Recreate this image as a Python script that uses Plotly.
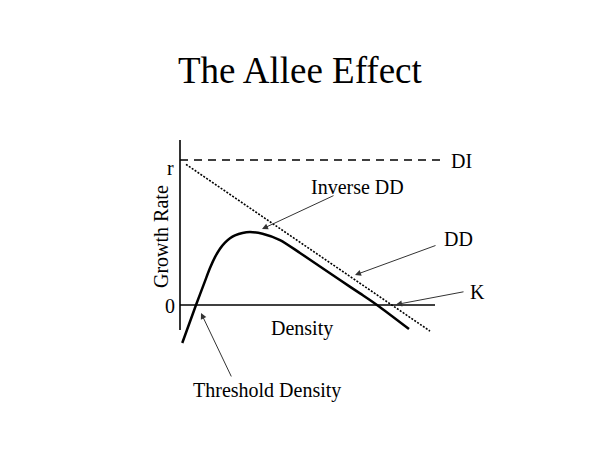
import plotly.graph_objects as go

# Allee effect curve (density vs. per-capita growth rate)
density = [0.9, 6.4, 10, 12, 14, 16, 18, 20, 22, 25, 28, 33, 40, 48, 56, 64, 72, 78.8, 91.6]
growth = [-0.262, 0.0, 0.165, 0.255, 0.33, 0.388, 0.43, 0.46, 0.48, 0.497, 0.503, 0.492,
          0.448, 0.359, 0.266, 0.172, 0.08, 0.0, -0.166]

# density dependent (logistic) line, dotted
dd_density = [2.4, 100]
dd_growth = [0.97, -0.18]

# density independent rate r, dashed
r_rate = 1.0
di_density = [0, 105]

# axes extent
x_axis_end = 102
y_axis_top = 1.138
y_axis_bottom = -0.172

serif = "Liberation Serif, Times New Roman, serif"

fig = go.Figure()

# DI dashed line
fig.add_trace(go.Scatter(x=di_density, y=[r_rate, r_rate], mode="lines",
                         line=dict(color="black", width=1.5, dash="8px,6px"),
                         hoverinfo="skip"))
# DD dotted line
fig.add_trace(go.Scatter(x=dd_density, y=dd_growth, mode="lines",
                         line=dict(color="black", width=1.6, dash="2px,1.5px"),
                         hoverinfo="skip"))
# Allee curve
fig.add_trace(go.Scatter(x=density, y=growth, mode="lines",
                         line=dict(color="black", width=2.5, shape="spline", smoothing=0.8),
                         hoverinfo="skip"))

# axes lines
fig.add_shape(type="line", x0=0, x1=0, y0=y_axis_bottom, y1=y_axis_top,
              line=dict(color="black", width=1.6))
fig.add_shape(type="line", x0=0, x1=x_axis_end, y0=0, y1=0,
              line=dict(color="black", width=1.6))

def label(text, x, y, size=20, angle=0):
    fig.add_annotation(x=x, y=y, text=text, showarrow=False, textangle=angle,
                       font=dict(family=serif, size=size, color="black"))

def pointer(x, y, ax, ay):
    fig.add_annotation(x=x, y=y, ax=ax, ay=ay, axref="x", ayref="y", text="",
                       showarrow=True, arrowhead=2, arrowsize=1.2, arrowwidth=1,
                       arrowcolor="#333333")

label("The Allee Effect", 48, 1.62, size=37)
label("r", -4, 0.945)
label("0", -4, -0.007)
label("Growth Rate", -7.6, 0.469, angle=-90)
label("DI", 112.4, 0.993)
label("DD", 111.2, 0.455)
label("K", 118.8, 0.09)
label("Inverse DD", 70.8, 0.814)
label("Density", 48.8, -0.159)
label("Threshold Density", 34.8, -0.593)

pointer(32.8, 0.524, 62, 0.759)      # Inverse DD
pointer(70, 0.207, 102.8, 0.414)     # DD
pointer(86.4, 0.003, 114, 0.093)     # K
pointer(8.4, -0.055, 20.8, -0.503)   # Threshold Density

# page body has an 8px margin, so the figure is 592x442 and the ranges start 8px in
fig.update_xaxes(range=[-68.8, 168], visible=False, fixedrange=True)
fig.update_yaxes(range=[-1.0, 2.0483], visible=False, fixedrange=True)
fig.update_layout(width=592, height=442, margin=dict(l=0, r=0, t=0, b=0),
                  plot_bgcolor="white", paper_bgcolor="white", showlegend=False)

fig.write_html("out.html")
